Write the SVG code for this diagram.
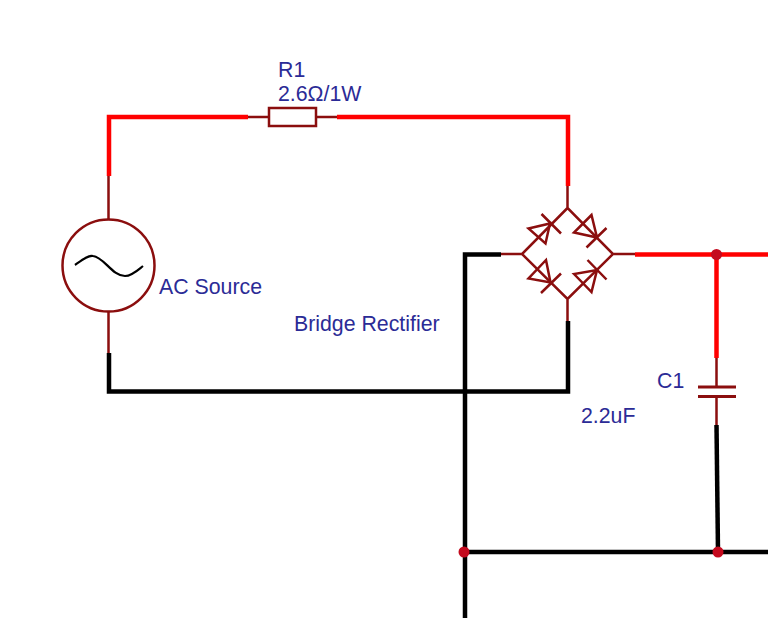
<svg xmlns="http://www.w3.org/2000/svg" width="768" height="618" viewBox="0 0 768 618">
<style>
text{font-family:"Liberation Sans",Arial,sans-serif;font-size:21.300px;fill:#2b2b96}
.sym{fill:none;stroke:#8b0e0e;stroke-width:2.500}
.red{fill:none;stroke:#ff0000;stroke-width:4.500}
.blk{fill:none;stroke:#000;stroke-width:4.500}
.dot{fill:#c40a1e}
</style>
<rect width="768" height="618" fill="#fff"/>
<g id="connectors">
<path class="red" d="M109 176V117H248"/>
<path class="red" d="M337 117H568V186"/>
<path class="red" d="M635 254.500H768"/>
<path class="red" d="M716.500 254.500V358"/>
<path class="blk" d="M109 353V391.500H568V321"/>
<path class="blk" d="M501 254.500H465V618"/>
<path class="blk" d="M716.500 425L718 552"/>
<path class="blk" d="M465 552H768"/>
<circle class="dot" cx="716.500" cy="254.500" r="5.500"/>
<circle class="dot" cx="464" cy="552" r="5.500"/>
<circle class="dot" cx="718" cy="552" r="5.500"/>
</g>
<g id="ac-source">
<path class="sym" d="M108.500 176V220M108.500 312V353"/>
<circle class="sym" cx="108.500" cy="265.500" r="46"/>
<path d="M75 265C82 260 88 255 93 256C104 257 112 276 125 276C132 276 138 270 143 266" fill="none" stroke="#000" stroke-width="2.200"/>
<text x="159" y="294">AC Source</text>
</g>
<g id="r1">
<path class="sym" d="M248 117H269M316 117H337"/>
<rect class="sym" x="269" y="108" width="47" height="18"/>
<text x="278" y="76.500">R1</text>
<text x="278" y="101">2.6Ω/1W</text>
</g>
<g id="bridge-rectifier">
<path class="sym" d="M567.500 186V208L613 254L567.500 299L522 254L567.500 208M613 254H635M522 254H501M567.500 299V321"/>
<path class="sym" d="M541.500 214L561 233.500M528.500 228.500L550 223.500L545.500 243.500Z"/>
<path class="sym" d="M606.500 228L586.500 247.500M591.500 215L574 232.500L597 237.500Z"/>
<path class="sym" d="M587.500 260L606.500 279.500M574 274L591.500 292L597 270Z"/>
<path class="sym" d="M541 293L561 273.500M546 260L528.500 278.500L550.500 282.500Z"/>
<text x="294" y="331">Bridge Rectifier</text>
</g>
<g id="c1">
<path class="sym" d="M716.500 358V387M716.500 396V425"/>
<path d="M698 387H736M698 396.500H736" fill="none" stroke="#8b0e0e" stroke-width="3"/>
<text x="657" y="388">C1</text>
<text x="581" y="423">2.2uF</text>
</g>
</svg>
